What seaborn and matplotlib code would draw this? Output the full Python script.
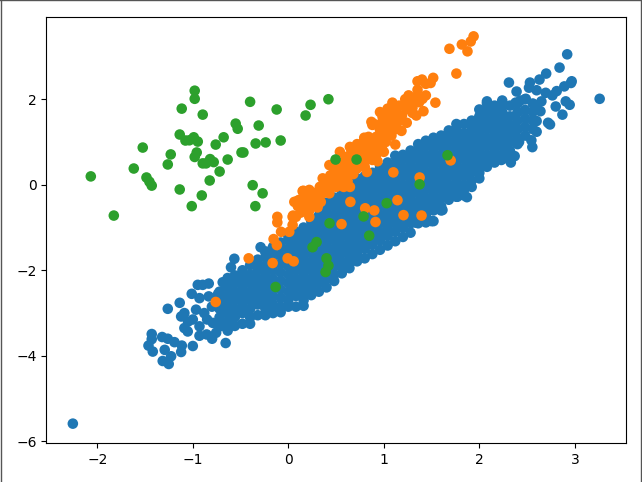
import matplotlib
matplotlib.use("Agg")
import matplotlib.pyplot as plt
import pandas as pd
import seaborn as sns
from matplotlib.lines import Line2D

# dense part of the blue band, one row of y values per x
band_x = [-0.72, -0.64, -0.56, -0.48, -0.40, -0.32, -0.24, -0.16, -0.08, 0.00, 0.08,
          0.16, 0.24, 0.32, 0.40, 0.48, 0.56, 0.64, 0.72, 0.80, 0.88, 0.96, 1.04,
          1.12, 1.20, 1.28, 1.36, 1.44, 1.52, 1.60, 1.68, 1.76, 1.84, 1.92, 2.00,
          2.08, 2.16, 2.24, 2.32, 2.40, 2.48, 2.56]
band_y = [
    [-3.31, -3.10, -2.90, -2.70, -2.50],
    [-3.35, -3.20, -3.00, -2.80, -2.60, -2.40, -2.26],
    [-3.30, -3.10, -2.90, -2.70, -2.50, -2.30, -2.12],
    [-3.25, -3.00, -2.80, -2.60, -2.40, -2.20, -2.00],
    [-3.25, -3.10, -2.90, -2.70, -2.50, -2.30, -2.10, -1.88],
    [-3.05, -2.80, -2.60, -2.40, -2.20, -2.00, -1.85, -1.75],
    [-3.05, -2.90, -2.70, -2.50, -2.30, -2.10, -1.90, -1.70, -1.58],
    [-3.00, -2.80, -2.60, -2.40, -2.20, -2.00, -1.80, -1.60, -1.45],
    [-2.98, -2.85, -2.65, -2.45, -2.25, -2.05, -1.85, -1.65, -1.45, -1.35],
    [-2.85, -2.70, -2.50, -2.30, -2.10, -1.90, -1.70, -1.50, -1.30, -1.20],
    [-2.85, -2.60, -2.40, -2.20, -2.00, -1.80, -1.60, -1.40, -1.20, -1.10],
    [-2.83, -2.70, -2.50, -2.30, -2.10, -1.90, -1.70, -1.50, -1.30, -1.10, -1.00],
    [-2.58, -2.40, -2.20, -2.00, -1.80, -1.60, -1.40, -1.20, -1.00, -0.85],
    [-2.50, -2.30, -2.10, -1.90, -1.70, -1.50, -1.30, -1.10, -0.90, -0.72],
    [-2.40, -2.20, -2.00, -1.80, -1.60, -1.40, -1.20, -1.00, -0.80, -0.60, -0.42],
    [-2.25, -2.10, -1.90, -1.70, -1.50, -1.30, -1.10, -0.90, -0.70, -0.50, -0.30],
    [-2.07, -1.94, -1.80, -1.60, -1.40, -1.20, -1.00, -0.80, -0.60, -0.40, -0.20, -0.12],
    [-1.95, -1.85, -1.70, -1.50, -1.30, -1.10, -0.90, -0.70, -0.50, -0.30, -0.10, 0.00],
    [-1.79, -1.60, -1.40, -1.20, -1.00, -0.80, -0.60, -0.40, -0.20, 0.00, 0.15],
    [-1.72, -1.50, -1.30, -1.10, -0.90, -0.70, -0.50, -0.30, -0.10, 0.10, 0.20],
    [-1.62, -1.40, -1.20, -1.00, -0.80, -0.60, -0.40, -0.20, 0.00, 0.15, 0.28],
    [-1.52, -1.30, -1.10, -0.90, -0.70, -0.50, -0.30, -0.10, 0.10, 0.30, 0.40],
    [-1.42, -1.20, -1.00, -0.80, -0.60, -0.40, -0.20, 0.00, 0.20, 0.40, 0.52],
    [-1.32, -1.10, -0.90, -0.70, -0.50, -0.30, -0.10, 0.10, 0.30, 0.50, 0.68],
    [-1.22, -1.00, -0.80, -0.60, -0.40, -0.20, 0.00, 0.20, 0.40, 0.60, 0.70],
    [-1.12, -0.90, -0.70, -0.50, -0.30, -0.10, 0.10, 0.30, 0.50, 0.70, 0.80],
    [-0.90, -0.80, -0.60, -0.40, -0.20, 0.00, 0.20, 0.40, 0.60, 0.80, 0.95],
    [-0.88, -0.70, -0.50, -0.30, -0.10, 0.10, 0.30, 0.50, 0.70, 0.90, 1.03],
    [-0.85, -0.60, -0.40, -0.20, 0.00, 0.20, 0.40, 0.60, 0.80, 1.00, 1.10],
    [-0.60, -0.50, -0.30, -0.10, 0.10, 0.30, 0.50, 0.70, 0.90, 1.10, 1.15],
    [-0.35, -0.20, 0.00, 0.20, 0.40, 0.60, 0.80, 1.00, 1.20, 1.27],
    [-0.28, -0.10, 0.10, 0.30, 0.50, 0.70, 0.90, 1.10, 1.30, 1.42],
    [-0.25, -0.12, 0.00, 0.20, 0.40, 0.60, 0.80, 1.00, 1.20, 1.42],
    [-0.05, 0.10, 0.30, 0.50, 0.70, 0.90, 1.10, 1.30, 1.50],
    [0.15, 0.28, 0.40, 0.60, 0.80, 1.00, 1.20, 1.40, 1.60, 1.76],
    [0.42, 0.50, 0.70, 0.90, 1.10, 1.30, 1.50, 1.70, 1.90, 1.95],
    [0.52, 0.60, 0.80, 1.00, 1.20, 1.40, 1.60, 1.80, 1.85],
    [0.60, 0.70, 0.90, 1.10, 1.30, 1.50, 1.70, 1.85, 1.97],
    [0.70, 0.80, 1.00, 1.20, 1.40, 1.60, 1.85],
    [0.95, 1.10, 1.30, 1.50, 1.70, 1.90],
    [1.15, 1.35, 1.55, 1.75, 2.00],
    [1.30, 1.50, 1.70, 1.90],
]

# loose blue points at both ends of the band
blue_loose = [
    (-2.256, -5.585), (-1.262, -2.90), (-1.137, -2.76), (-1.43, -3.49), (-1.43, -3.61),
    (-1.464, -3.76), (-1.419, -3.90), (-1.315, -4.12), (-1.252, -4.19), (-1.227, -4.01),
    (-1.294, -3.86), (-1.321, -3.56), (-1.262, -3.60), (-1.192, -3.68), (-1.122, -3.91),
    (-1.115, -3.76), (-1.00, -3.77), (-0.656, -3.70), (-1.053, -3.43), (-1.088, -3.35),
    (-1.122, -3.08), (-1.088, -3.00), (-1.05, -3.20), (-1.011, -2.55), (-0.948, -2.34),
    (-0.896, -2.34), (-0.833, -2.31), (-0.93, -2.65), (-0.833, -2.61), (-0.735, -2.55),
    (-0.966, -2.92), (-0.93, -3.31), (-0.93, -3.53), (-0.855, -3.50), (-0.798, -3.60),
    (-0.756, -3.46), (-0.635, -3.41), (-0.85, -3.15), (-0.79, -3.23), (-0.72, -3.31),
    (-0.565, -1.73), (-0.60, -1.93), (-0.635, -2.18), (-0.687, -2.28), (-0.29, -1.46),
    (-0.235, -1.56), (-0.80, -2.85), (-0.88, -3.00), (-1.00, -3.15),
    (1.50, -0.85), (1.335, -0.886), (1.614, -0.59), (1.87, -0.29), (1.77, -0.28),
    (1.70, -0.28), (2.23, 0.58), (2.33, 0.52), (2.37, 0.67), (2.555, 0.88),
    (2.545, 1.04), (2.416, 1.00), (2.60, 1.24), (2.74, 1.41), (2.72, 1.45),
    (2.60, 1.49), (2.87, 1.64), (2.80, 1.83), (2.946, 1.87), (2.905, 1.95),
    (3.26, 2.01), (2.92, 3.05), (2.84, 2.74), (2.70, 2.60), (2.63, 2.46),
    (2.53, 2.39), (2.52, 2.27), (2.60, 2.21), (2.31, 2.39), (2.39, 2.18),
    (2.486, 2.01), (2.38, 1.92), (2.43, 1.97), (2.695, 2.15), (2.765, 2.09),
    (2.81, 2.19), (2.89, 2.30), (2.967, 2.42), (2.96, 2.38), (2.65, 1.95),
    (2.64, 1.72), (2.60, 1.85),
]

orange_pts = [
    (1.94, 3.47), (1.91, 3.35), (1.817, 3.28), (1.687, 3.18), (1.876, 3.12), (1.76, 2.60),
    (1.517, 2.50), (1.49, 2.38), (1.44, 2.36), (1.40, 2.46), (1.353, 2.42), (1.353, 2.22),
    (1.44, 2.09), (1.405, 2.01), (1.37, 1.93), (1.54, 1.92), (1.415, 1.72), (1.34, 1.62),
    (1.26, 2.09), (1.224, 2.00), (1.09, 1.92), (1.24, 1.77), (0.987, 1.585), (1.127, 1.74),
    (1.19, 1.62), (0.87, 1.47), (0.88, 1.40), (1.185, 1.26), (1.12, 0.94), (0.934, 0.55),
    (1.00, 0.77), (0.823, 0.30), (0.795, 1.10), (0.645, 0.885), (0.54, 0.77), (0.43, 0.46),
    (0.36, 0.15), (0.645, -0.05), (0.57, -0.02), (0.43, -0.20),
    (1.18, 1.60), (1.10, 1.62), (1.02, 1.60), (1.14, 1.45), (1.06, 1.45), (0.98, 1.45),
    (0.90, 1.42), (1.12, 1.30), (1.04, 1.30), (0.96, 1.28), (1.08, 1.15), (1.00, 1.15),
    (0.92, 1.12), (0.84, 1.12), (1.02, 1.00), (0.94, 0.98), (0.86, 0.98), (0.78, 0.98),
    (0.72, 0.95), (0.98, 0.85), (0.90, 0.85), (0.82, 0.85), (0.74, 0.82), (0.66, 0.80),
    (0.92, 0.70), (0.84, 0.70), (0.76, 0.68), (0.68, 0.68), (0.60, 0.65), (0.88, 0.58),
    (0.80, 0.55), (0.72, 0.52), (0.64, 0.52), (0.56, 0.52), (0.48, 0.50), (0.80, 0.42),
    (0.72, 0.38), (0.64, 0.38), (0.56, 0.38), (0.48, 0.35), (0.68, 0.25), (0.60, 0.22),
    (0.52, 0.22), (0.44, 0.22), (0.38, 0.10), (0.46, 0.08), (0.54, 0.08), (0.62, 0.08),
    (0.58, -0.05), (0.50, -0.05), (0.42, -0.05), (0.34, -0.05),
    (-0.115, -0.75), (-0.115, -0.88), (-0.076, -1.10), (0.01, -1.10), (0.045, -0.75),
    (0.063, -0.40), (0.157, -0.14), (0.22, -0.12), (0.27, -0.19), (0.22, -0.75),
    (0.133, -0.54), (0.10, -0.37), (-0.154, -1.27), (-0.12, -1.41), (0.045, -0.94),
    (0.08, -0.75), (0.306, -0.53), (0.15, -0.15), (0.33, -0.05), (0.12, -0.35),
    (0.20, -0.30), (0.28, -0.30), (0.36, -0.20), (0.10, -0.50), (0.18, -0.45),
    (0.26, -0.45), (0.34, -0.40), (0.05, -0.72), (0.13, -0.65), (0.22, -0.60),
    # upper arm of the orange band
    (1.20, 1.85), (1.30, 1.80), (1.28, 1.95), (1.34, 2.05), (1.30, 1.68),
    (1.24, 1.45), (1.16, 1.85), (1.04, 1.78), (0.96, 1.70),
    # scattered inside the blue band
    (-0.415, -1.72), (-0.164, -1.83), (-0.007, -1.72), (0.056, -1.79), (-0.76, -2.74),
    (0.557, -0.92), (0.65, -0.40), (1.10, 0.29), (1.375, 0.17), (1.70, 0.57),
    (0.805, -0.55), (0.90, -0.60), (1.143, -0.36), (0.913, -0.87), (1.206, -0.71),
    (1.395, -0.72),
]

green_pts = [
    (-2.068, 0.196), (-1.827, -0.72), (-1.618, 0.38), (-1.524, 0.87), (-1.485, 0.17),
    (-1.454, 0.07), (-1.43, -0.02), (-1.262, 0.475), (-1.231, 0.71), (-1.137, -0.11),
    (-1.137, 1.175), (-1.116, 1.78), (-1.077, 1.035), (-1.036, 1.04), (-1.011, -0.50),
    (-0.99, 1.11), (-0.98, 2.20), (-0.98, 2.01), (-0.948, 1.01), (-0.98, 0.65),
    (-0.959, 0.755), (-0.906, -0.25), (-0.896, 1.64), (-0.896, 0.50), (-0.861, 0.50),
    (-0.823, 0.10), (-0.819, 0.60), (-0.781, 0.53), (-0.76, 0.94), (-0.719, 0.31),
    (-0.677, 1.11), (-0.635, 0.59), (-0.551, 1.43), (-0.53, 1.31), (-0.47, 0.755),
    (-0.49, 0.755), (-0.40, 1.94), (-0.373, -0.01), (-0.345, -0.50), (-0.342, 0.965),
    (-0.31, 1.385), (-0.269, -0.20), (-0.237, 0.99), (-0.122, 1.76), (-0.08, 1.035),
    (0.181, 1.62), (0.233, 1.87), (0.42, 2.00), (0.495, 0.59), (0.715, 0.59),
    (1.667, 0.69), (1.375, 0.01), (1.03, -0.43), (0.788, -0.74), (0.432, -0.90),
    (0.847, -1.19), (0.296, -1.34), (0.254, -1.46), (0.40, -1.72), (0.42, -1.89),
    (0.39, -2.04), (-0.133, -2.39),
]

colors = ["#1f77b4", "#ff7f0e", "#2ca02c"]

blue_pts = [(x, y) for x, ys in zip(band_x, band_y) for y in ys] + blue_loose

# row order keeps blue under orange under green
rows = []
for name, pts in zip(["blue", "orange", "green"], [blue_pts, orange_pts, green_pts]):
    rows += [(x, y, name) for x, y in pts]
df = pd.DataFrame(rows, columns=["x", "y", "group"])

fig = plt.figure(figsize=(6.42, 4.82), dpi=100)
ax = fig.add_axes([46.5 / 642, 39 / 482, 579.5 / 642, 426 / 482])
sns.scatterplot(data=df, x="x", y="y", hue="group", palette=colors, s=58,
                linewidth=0, legend=False, ax=ax)
ax.set_xlabel("")
ax.set_ylabel("")
ax.set_xticks([-2, -1, 0, 1, 2, 3])
ax.set_yticks([-6, -4, -2, 0, 2])

# screenshot frame around the window
frame = "#555555"
fig.add_artist(Line2D([0, 1], [0.999, 0.999], color=frame, lw=1))
fig.add_artist(Line2D([0.001, 0.001], [0, 1], color=frame, lw=1))
fig.add_artist(Line2D([0.999, 0.999], [0, 1], color=frame, lw=1))

fig.savefig("out.png", dpi=100)
